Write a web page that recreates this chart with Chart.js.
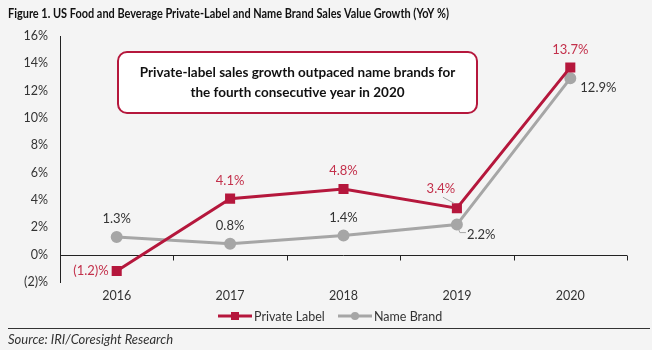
<!DOCTYPE html>
<html>
<head>
<meta charset="utf-8">
<script src="https://cdn.jsdelivr.net/npm/chart.js@4.4.1/dist/chart.umd.min.js"></script>
<style>
  html, body { margin: 0; padding: 0; background: #f4f4f4; }
  #wrap { width: 652px; height: 350px; position: relative; }
</style>
</head>
<body>
<div id="wrap"><canvas id="grafica"></canvas></div>
<script>
"use strict";
const years = ["2016", "2017", "2018", "2019", "2020"];
const privateLabel = [-1.2, 4.1, 4.8, 3.4, 13.7];
const nameBrand = [1.3, 0.8, 1.4, 2.2, 12.9];
const yTicks = [-2, 0, 2, 4, 6, 8, 10, 12, 14, 16];

const titulo = "Figure 1. US Food and Beverage Private-Label and Name Brand Sales Value Growth (YoY %)";
const fuente = "Source: IRI/Coresight Research";
const nota = ["Private-label sales growth outpaced name brands for", "the fourth consecutive year in 2020"];

const RED = "#b5173c";
const RED_TXT = "#c3304b";
const GRAY = "#a6a6a6";
const TXT = "#333333";
const FONT = "Lato, 'Open Sans', sans-serif";

// where each value label sits relative to its point
const plPos = ["left", "above", "above", "aboveLeft", "above"];
const nbPos = ["above", "above", "above", "belowRight", "right"];

function fmt(v) {
    return v < 0 ? `(${Math.abs(v).toFixed(1)})%` : `${v.toFixed(1)}%`;
}

const extras = {
    id: "extras",
    beforeDatasetsDraw(chart) {
        const { ctx, chartArea, scales } = chart;
        const y0 = Math.round(scales.y.getPixelForValue(0)) + 0.5;
        ctx.save();
        ctx.strokeStyle = "#222";
        ctx.lineWidth = 1;
        ctx.beginPath();
        ctx.moveTo(chartArea.left, y0);
        ctx.lineTo(chartArea.right, y0);
        // category tick marks below the zero line
        const step = (chartArea.right - chartArea.left) / years.length;
        for (let i = 1; i <= years.length; i++) {
            const x = Math.round(chartArea.left + step * i) + 0.5;
            ctx.moveTo(x, y0);
            ctx.lineTo(x, y0 + 5);
        }
        ctx.stroke();

        // annotation box
        const bx = chartArea.left + 58, by = chartArea.top + 16, bw = 359, bh = 61;
        ctx.fillStyle = "#ffffff";
        ctx.strokeStyle = RED;
        ctx.lineWidth = 2;
        ctx.beginPath();
        ctx.roundRect(bx, by, bw, bh, 9);
        ctx.fill();
        ctx.stroke();
        ctx.fillStyle = "#111";
        ctx.font = `bold 13.5px ${FONT}`;
        ctx.textAlign = "center";
        ctx.textBaseline = "middle";
        ctx.fillText(nota[0], bx + bw / 2, by + 21);
        ctx.fillText(nota[1], bx + bw / 2, by + 41);
        ctx.restore();
    },
    afterDatasetsDraw(chart) {
        const { ctx } = chart;
        ctx.save();
        ctx.font = `13px ${FONT}`;
        ctx.textBaseline = "middle";
        const sets = [[0, plPos, RED_TXT], [1, nbPos, TXT]];
        sets.forEach(([di, pos, color]) => {
            const meta = chart.getDatasetMeta(di);
            const vals = chart.data.datasets[di].data;
            meta.data.forEach((pt, i) => {
                const t = fmt(vals[i]);
                let x = pt.x, y = pt.y, align = "center";
                if (pos[i] === "above") { y -= 18; }
                else if (pos[i] === "left") { x -= 8; align = "right"; }
                else if (pos[i] === "right") { x += 10; y += 9; align = "left"; }
                else if (pos[i] === "aboveLeft") {
                    x -= 16; y -= 19;
                    ctx.strokeStyle = GRAY; ctx.lineWidth = 1;
                    ctx.beginPath(); ctx.moveTo(pt.x - 14, pt.y - 11); ctx.lineTo(pt.x - 3, pt.y - 5); ctx.stroke();
                }
                else if (pos[i] === "belowRight") {
                    x += 10; y += 10; align = "left";
                    ctx.strokeStyle = GRAY; ctx.lineWidth = 1;
                    ctx.beginPath(); ctx.moveTo(pt.x + 1, pt.y + 3); ctx.lineTo(pt.x + 3, pt.y + 8); ctx.lineTo(pt.x + 9, pt.y + 8); ctx.stroke();
                }
                ctx.fillStyle = color;
                ctx.textAlign = align;
                ctx.fillText(t, x, y);
            });
        });
        ctx.restore();
    },
    afterDraw(chart) {
        const { ctx, width } = chart;
        ctx.save();
        // title, squeezed to the narrow width of the original face
        ctx.fillStyle = "#111";
        ctx.font = `bold 13px ${FONT}`;
        ctx.textAlign = "left";
        ctx.textBaseline = "middle";
        const tw = ctx.measureText(titulo).width;
        const sx = Math.min(1, 441 / tw);
        ctx.save();
        ctx.translate(8, 14);
        ctx.scale(sx, 1);
        ctx.fillText(titulo, 0, 0);
        ctx.restore();

        // legend
        ctx.font = `12.5px ${FONT}`;
        const items = [
            { label: "Private Label", color: RED, x: 218, square: true },
            { label: "Name Brand", color: GRAY, x: 338, square: false },
        ];
        const ly = 316;
        items.forEach((it) => {
            ctx.strokeStyle = it.color;
            ctx.lineWidth = 3;
            ctx.beginPath();
            ctx.moveTo(it.x, ly);
            ctx.lineTo(it.x + 34, ly);
            ctx.stroke();
            ctx.fillStyle = it.color;
            if (it.square) {
                ctx.fillRect(it.x + 13, ly - 4, 8, 8);
            } else {
                ctx.beginPath();
                ctx.arc(it.x + 17, ly, 4, 0, Math.PI * 2);
                ctx.fill();
            }
            ctx.fillStyle = TXT;
            ctx.fillText(it.label, it.x + 36, ly + 1);
        });

        // footer
        ctx.strokeStyle = "#333";
        ctx.lineWidth = 1;
        ctx.beginPath();
        ctx.moveTo(8, 328.5);
        ctx.lineTo(width - 2, 328.5);
        ctx.stroke();
        ctx.fillStyle = TXT;
        ctx.font = `italic 13px ${FONT}`;
        ctx.fillText(fuente, 8, 340);
        ctx.restore();
    },
};

const chart = new Chart(document.querySelector("#grafica"), {
    type: "line",
    data: {
        labels: years,
        datasets: [
            {
                label: "Private Label",
                data: privateLabel,
                borderColor: RED,
                backgroundColor: RED,
                borderWidth: 3,
                pointStyle: "rect",
                pointRadius: 5,
                pointHoverRadius: 5,
                tension: 0,
            },
            {
                label: "Name Brand",
                data: nameBrand,
                borderColor: GRAY,
                backgroundColor: GRAY,
                borderWidth: 3,
                pointStyle: "circle",
                pointRadius: 4.5,
                pointHoverRadius: 4.5,
                tension: 0,
            },
        ],
    },
    options: {
        responsive: true,
        maintainAspectRatio: false,
        animation: false,
        events: [],
        layout: { padding: { top: 36, right: 25, left: 0, bottom: 0 } },
        plugins: {
            legend: { display: false },
            tooltip: { enabled: false },
        },
        scales: {
            x: {
                offset: true,
                grid: { display: false, drawTicks: false },
                border: { display: false },
                ticks: { color: TXT, font: { family: FONT, size: 12.5 }, padding: 6 },
                afterFit: (scale) => { scale.height = 68; },
            },
            y: {
                min: -2,
                max: 16,
                afterBuildTicks: (scale) => { scale.ticks = yTicks.map((v) => ({ value: v })); },
                grid: { display: false, drawOnChartArea: false, drawTicks: true, tickLength: 5, color: "#222" },
                border: { display: true, color: "#222", width: 1 },
                ticks: {
                    color: TXT,
                    font: { family: FONT, size: 12.5 },
                    padding: 7,
                    callback: (v) => (v < 0 ? `(${Math.abs(v)})%` : `${v}%`),
                },
                afterFit: (scale) => { scale.width = 60; },
            },
        },
    },
    plugins: [extras],
});
</script>
</body>
</html>
